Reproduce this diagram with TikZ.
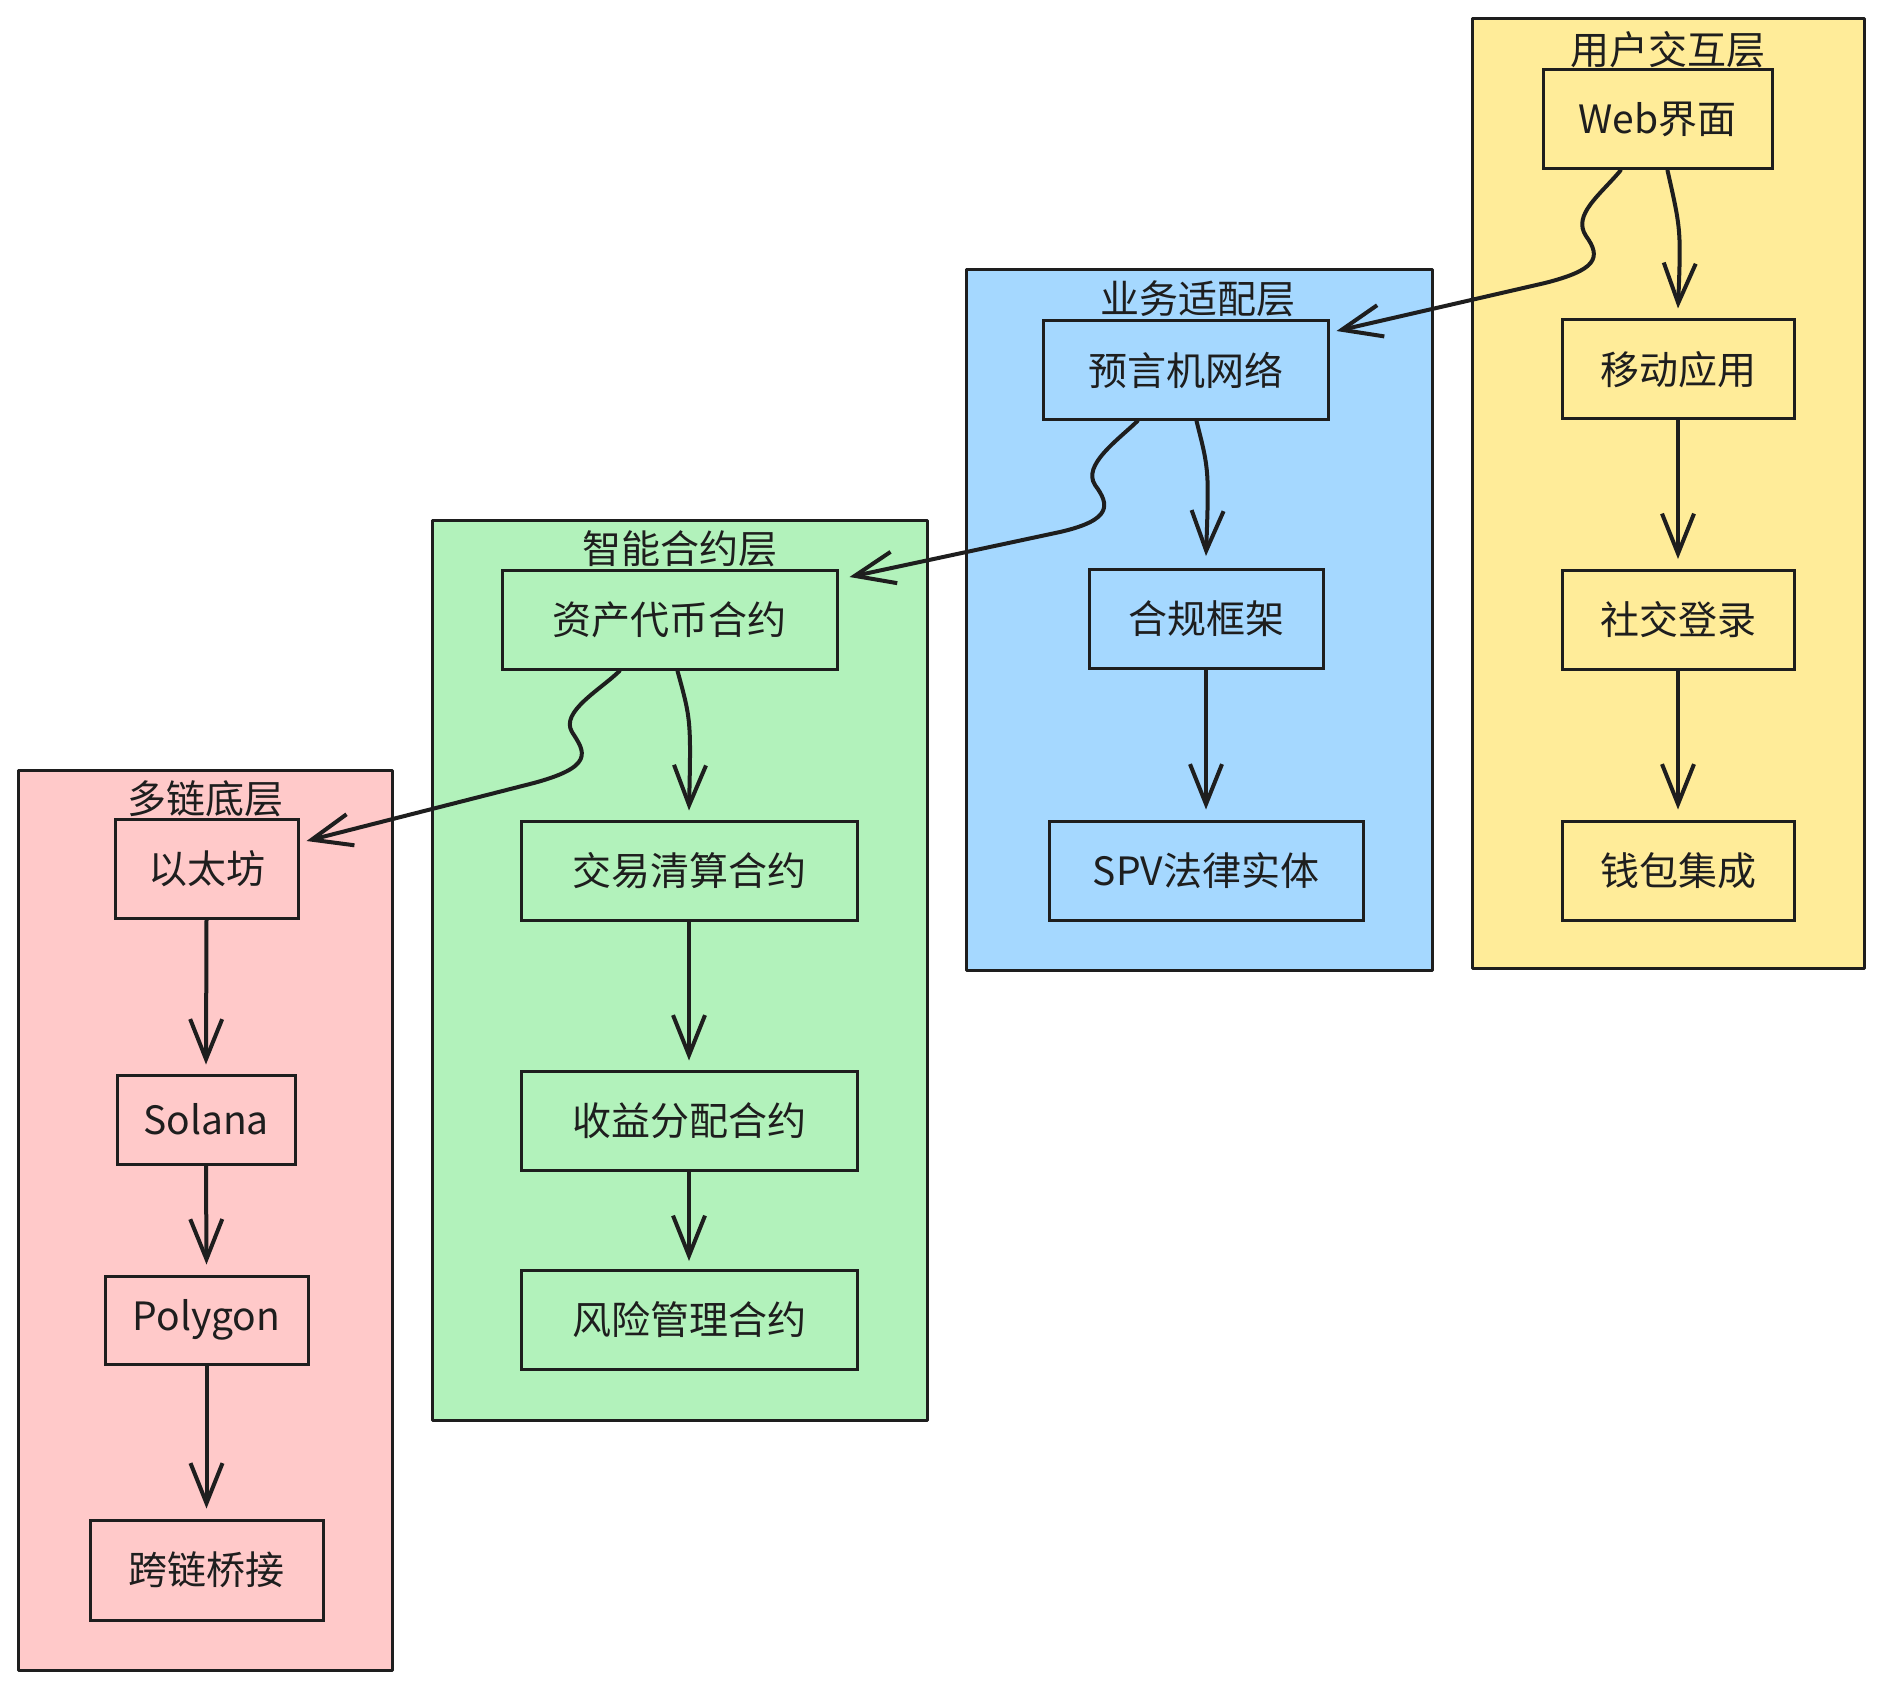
\documentclass[tikz,border=0pt]{standalone}
\usepackage{fontspec}
\newfontfamily\cjk{Noto Sans CJK SC}
\usetikzlibrary{arrows.meta}

\definecolor{inkgray}{HTML}{1E1E1E}
\definecolor{layerYellow}{HTML}{FFEC99}
\definecolor{layerBlue}{HTML}{A5D8FF}
\definecolor{layerGreen}{HTML}{B2F2BB}
\definecolor{layerPink}{HTML}{FFC9C9}

\tikzset{
	layer/.style={draw=inkgray, line width=1.5pt, line join=round},
	layertitle/.style={font=\cjk\fontsize{19.5}{23}\selectfont, inner sep=0pt, text=inkgray},
	box/.style={draw=inkgray, line width=1.5pt, minimum height=49.5pt, inner sep=0pt, font=\cjk\fontsize{19.5}{23}\selectfont, text=inkgray},
	flow/.style={draw=inkgray, line width=2pt, line cap=round, line join=round, -{Straight Barb[length=20pt,width=16pt,line width=2pt]}}
}

\begin{document}
\begin{tikzpicture}[x=0.5pt,y=-0.5pt]
	\useasboundingbox (0,0) rectangle (1884,1690);

	% layers
	\filldraw[layer, fill=layerYellow] (1472,19) rectangle (1864,968);
	\filldraw[layer, fill=layerBlue] (966,270) rectangle (1432,970);
	\filldraw[layer, fill=layerGreen] (432,520) rectangle (927,1420);
	\filldraw[layer, fill=layerPink] (18,770) rectangle (392,1670);

	\node[layertitle] (userT) at (1668,50) {用户交互层};
	\node[layertitle] (bizT) at (1198,299) {业务适配层};
	\node[layertitle] (contractT) at (680,549) {智能合约层};
	\node[layertitle] (chainT) at (205,799) {多链底层};

	% user layer
	\node[box, minimum width=114.5pt] (web) at (1657.5,119.5) {Web界面};
	\node[box, minimum width=116pt] (mobile) at (1678,369.5) {移动应用};
	\node[box, minimum width=116pt] (social) at (1678,620) {社交登录};
	\node[box, minimum width=116pt] (wallet) at (1678,870.5) {钱包集成};

	% business layer
	\node[box, minimum width=142.5pt] (oracle) at (1185.5,370) {预言机网络};
	\node[box, minimum width=117pt] (comply) at (1206,619) {合规框架};
	\node[box, minimum width=157pt] (spv) at (1206,870.5) {SPV法律实体};

	% contract layer
	\node[box, minimum width=167.5pt] (asset) at (669.5,620) {资产代币合约};
	\node[box, minimum width=168pt] (settle) at (689,870.5) {交易清算合约};
	\node[box, minimum width=168pt] (yield) at (689,1120.5) {收益分配合约};
	\node[box, minimum width=168pt] (risk) at (689,1320) {风险管理合约};

	% chain layer
	\node[box, minimum width=91.5pt] (eth) at (206.5,869) {以太坊};
	\node[box, minimum width=89pt, minimum height=44.5pt] (sol) at (206,1119.5) {Solana};
	\node[box, minimum width=101.5pt, minimum height=44pt] (poly) at (206.5,1320) {Polygon};
	\node[box, minimum width=116.5pt, minimum height=50pt] (bridge) at (206.5,1570) {跨链桥接};

	% down the layers
	\draw[flow] ([xshift=5pt]web.south) .. controls (1681,230) .. ([yshift=5pt]mobile.north);
	\draw[flow] (mobile.south) -- ([yshift=5pt]social.north);
	\draw[flow] (social.south) -- ([yshift=5pt]wallet.north);

	\draw[flow] ([xshift=5.5pt]oracle.south) .. controls (1209,470) .. ([yshift=6pt]comply.north);
	\draw[flow] (comply.south) -- ([yshift=5pt]spv.north);

	\draw[flow] ([xshift=4pt]asset.south) .. controls (691,720) .. ([yshift=4.5pt]settle.north);
	\draw[flow] (settle.south) -- ([yshift=4.5pt]yield.north);
	\draw[flow] (yield.south) -- ([yshift=4pt]risk.north);

	\draw[flow] (eth.south) -- ([yshift=4.5pt]sol.north);
	\draw[flow] (sol.south) -- ([yshift=5pt]poly.north);
	\draw[flow] (poly.south) -- ([yshift=5pt]bridge.north);

	% across the layers
	\draw[flow] ([xshift=-18.5pt]web.south) .. controls (1600,195) and (1572,215) .. (1586,236)
		.. controls (1602,258) and (1596,270) .. (1545,283) -- ([xshift=3.5pt,yshift=-6pt]oracle.north east);
	\draw[flow] ([xshift=-24pt]oracle.south) .. controls (1118,440) and (1082,465) .. (1095,485)
		.. controls (1110,505) and (1112,520) .. (1060,532) -- ([xshift=5.5pt,yshift=-4pt]asset.north east);
	\draw[flow] ([xshift=-25pt]asset.south) .. controls (600,690) and (560,712) .. (572,732)
		.. controls (585,752) and (596,767) .. (530,784) -- ([xshift=3.5pt,yshift=-11.5pt]eth.north east);
\end{tikzpicture}
\end{document}
